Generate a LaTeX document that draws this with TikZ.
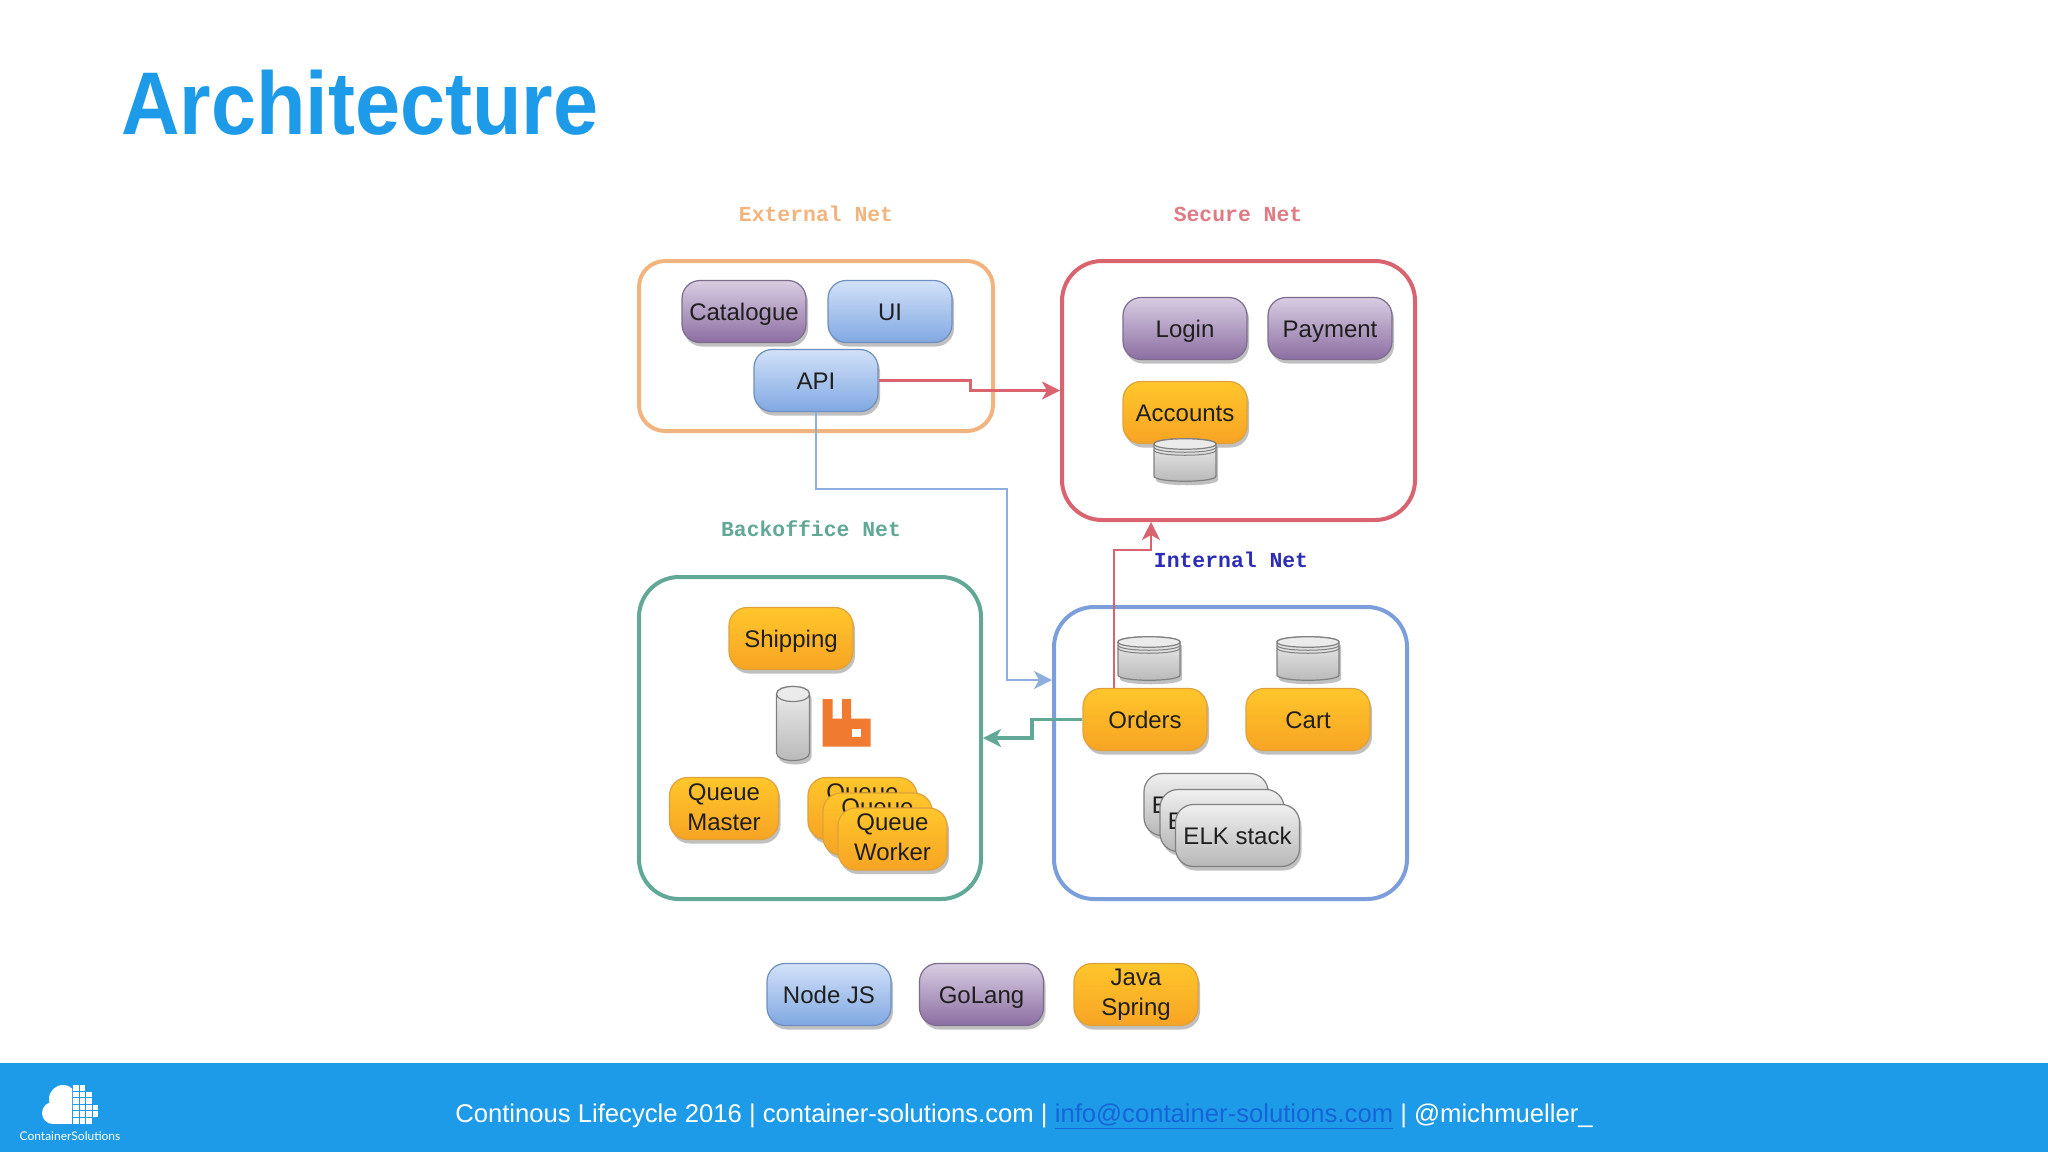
\documentclass[tikz,border=0pt]{standalone}
\usepackage{fontspec}
\setmainfont{Liberation Sans}
\newfontfamily\titlefont[FakeStretch=0.91]{Liberation Sans Bold}
\newfontfamily\labelfont{Liberation Mono Bold}
\newfontfamily\logofont{Lato}
\usetikzlibrary{arrows.meta,shadows,calc}
\definecolor{brand}{HTML}{1E9BE8}
\definecolor{extc}{HTML}{F2B47E}
\definecolor{secc}{HTML}{D9646F}
\definecolor{bakc}{HTML}{62A896}
\definecolor{intc}{HTML}{7C9FDB}
\definecolor{bluelink}{HTML}{8EAEDD}
\definecolor{purtop}{HTML}{D8CDE2}
\definecolor{purbot}{HTML}{8C6EA2}
\definecolor{purline}{HTML}{7E6C8E}
\definecolor{blutop}{HTML}{D2E1F8}
\definecolor{blubot}{HTML}{80A8E2}
\definecolor{blulin}{HTML}{6F8FBE}
\definecolor{ortop}{HTML}{FFC62B}
\definecolor{orbot}{HTML}{F7A424}
\definecolor{orlin}{HTML}{DFA23A}
\definecolor{rabbit}{HTML}{F07A2F}
\definecolor{mailc}{HTML}{1565D8}
\definecolor{intl}{HTML}{2C2CB4}
\tikzset{
  svc/.style={rounded corners=9pt,minimum width=62pt,minimum height=31pt,inner sep=0pt,align=center,
    font=\fontsize{12}{15}\selectfont,text=black!88,line width=.6pt,
    drop shadow={shadow xshift=1pt,shadow yshift=-2pt,opacity=.35,fill=black!70}},
  purple svc/.style={svc,draw=purline,top color=purtop,bottom color=purbot},
  blue svc/.style={svc,draw=blulin,top color=blutop,bottom color=blubot},
  orange svc/.style={svc,draw=orlin,top color=ortop,bottom color=orbot},
  grey svc/.style={svc,draw=black!50,top color=black!6,bottom color=black!28},
  small svc/.style={minimum width=54.5pt},
  single/.style={text height=10.1pt,text depth=1.2pt},
  netbox/.style={line width=2pt,fill=none,inner sep=0pt},
  netlabel/.style={font=\labelfont\fontsize{10.7}{13}\selectfont},
  link/.style={line width=1.25pt,-{Stealth[length=9pt,width=9pt,inset=2.5pt]},rounded corners=0pt},
  drum/.style={draw=black!50,line width=.6pt,top color=black!6,bottom color=black!28,
    drop shadow={shadow xshift=1pt,shadow yshift=-2pt,opacity=.35,fill=black!70}},
}
\newcommand\liftline[1]{\raisebox{1.6pt}{#1}}
% centre x, top y, half width, total height, ellipse height
\newcommand\dbshape[5]{%
  \path[drum] (#1-#3,#2+#5) -- (#1-#3,#2+#4-#5)
    .. controls (#1-#3,#2+#4) and (#1+#3,#2+#4) .. (#1+#3,#2+#4-#5)
    -- (#1+#3,#2+#5)
    .. controls (#1+#3,#2) and (#1-#3,#2) .. (#1-#3,#2+#5) -- cycle;
  \draw[draw=black!50,line width=.6pt,fill=black!8] (#1-#3,#2+#5)
    .. controls (#1-#3,#2) and (#1+#3,#2) .. (#1+#3,#2+#5)
    .. controls (#1+#3,#2+2*#5) and (#1-#3,#2+2*#5) .. cycle;
}
\newcommand\dbdrum[4]{%
  \dbshape{#1}{#2}{#3}{#4}{7}
  \draw[draw=black!50,line width=.5pt] (#1-#3,#2+10) .. controls (#1-#3,#2+17) and (#1+#3,#2+17) .. (#1+#3,#2+10);
  \draw[draw=black!50,line width=.5pt] (#1-#3,#2+13) .. controls (#1-#3,#2+20) and (#1+#3,#2+20) .. (#1+#3,#2+13);
}
\begin{document}
\begin{tikzpicture}[x=0.5pt,y=-0.5pt]
\useasboundingbox (0,0) rectangle (2048,1152);
\fill[white] (0,0) rectangle (2048,1152);

% title
\node[anchor=west,inner sep=0pt,text=brand,font=\titlefont\fontsize{44.5}{50}\selectfont] (title) at (121,103) {Architecture};

% net frames
\node[netbox,draw=extc,rounded corners=13pt,minimum width=177pt,minimum height=85pt] (external) at (816,346) {};
\node[netbox,draw=secc,rounded corners=20pt,minimum width=176.5pt,minimum height=129.5pt] (secure) at (1238.5,390.5) {};
\node[netbox,draw=bakc,rounded corners=20pt,minimum width=171pt,minimum height=161pt] (backoffice) at (810,738) {};
\node[netbox,draw=intc,rounded corners=20pt,minimum width=176.5pt,minimum height=146pt] (internal) at (1230.5,753) {};

% net labels
\node[netlabel,text=extc] (lext) at (816,214) {External Net};
\node[netlabel,text=secc!85] (lsec) at (1238,214) {Secure Net};
\node[netlabel,text=bakc] (lbak) at (811,529) {Backoffice Net};
\node[netlabel,text=intl] (lint) at (1231,560) {Internal Net};

% services
\node[purple svc,single] (catalogue) at (744,311.5) {Catalogue};
\node[blue svc,single] (ui) at (890,311.5) {UI};
\node[blue svc,single] (api) at (816,380.5) {API};
\node[purple svc,single] (login) at (1185,328.5) {Login};
\node[purple svc,single] (payment) at (1330,328.5) {Payment};
\node[orange svc,single] (accounts) at (1185,412.5) {Accounts};
\node[orange svc,single] (shipping) at (791,638.5) {Shipping};
\node[orange svc,small svc] (master) at (724,808.5) {\liftline{Queue}\\\liftline{Master}};
\node[orange svc,small svc] (workera) at (862.5,808.5) {\liftline{Queue}\\\liftline{Worker}};
\node[orange svc,small svc] (workerb) at (877.5,824) {\liftline{Queue}\\\liftline{Worker}};
\node[orange svc,small svc] (workerc) at (892.5,839) {\liftline{Queue}\\\liftline{Worker}};
\node[orange svc,single] (orders) at (1145,719.5) {Orders};
\node[orange svc,single] (cart) at (1308,719.5) {Cart};
\node[grey svc,single] (elka) at (1206,804.5) {ELK stack};
\node[grey svc,single] (elkb) at (1222,820.5) {ELK stack};
\node[grey svc,single] (elkc) at (1237.5,835.5) {ELK stack};
\node[blue svc,single] (nodejs) at (829,994.5) {Node JS};
\node[purple svc,single] (golang) at (981.5,994.5) {GoLang};
\node[orange svc] (java) at (1136,994.5) {Java\\Spring};

% connectors
\coordinate (redbend) at ($(api.east)+(92,0)$);
\draw[link,secc] (api.east) -- (redbend) |- (secure.west);
\coordinate (blueb) at (1007,489);
\coordinate (bluec) at (1052,680);
\draw[link,bluelink] (api.south) |- (blueb) |- (bluec);
\coordinate (greenbend) at (1032,719.5);
\draw[link,bakc,line width=1.6pt] (orders.west) -- (greenbend) |- (backoffice.east);
\coordinate (reda) at (1114,688);
\coordinate (redb) at (1114,550);
\coordinate (redc) at (1151,522);
\draw[link,secc] (reda) -- (redb) -| (redc);

% data stores
\dbdrum{1185}{437}{31}{46}
\dbdrum{1149}{635}{31}{47}
\dbdrum{1308}{635}{31}{47}
\dbshape{793}{684}{16.5}{79}{10}

% rabbit
\fill[rabbit] (822.5,699) -- (832.5,699) -- (832.5,718.5) -- (842,718.5) -- (842,699) -- (851,699) -- (851,718.5) -- (870.5,718.5) -- (870.5,746.5) -- (822.5,746.5) -- cycle;
\fill[white] (851.5,728.5) rectangle (860.5,737);

% footer
\fill[brand] (0,1063) rectangle (2048,1152);
\node[inner sep=0pt,text=white,font=\fontsize{12.83}{16}\selectfont] (footer) at (1024,1116.5)
  {Continous Lifecycle 2016 | container-solutions.com | \textcolor{mailc}{\underline{info@container-solutions.com}} | @michmueller\_};

% logo
\begin{scope}
\clip (30,1080) rectangle (72,1126);
\fill[white] (63,1099) circle (14);
\fill[white] (53,1113) circle (11);
\fill[white] (53,1106) rectangle (72,1124);
\end{scope}
\foreach \c/\r in {0/0,1/0,0/1,1/1,2/1,0/2,1/2,2/2,0/3,1/3,2/3,3/3,0/4,1/4,2/4,3/4,0/5,1/5,2/5}
  \fill[white] ({73+6.5*\c},{1085+6.6*\r}) rectangle ++(5.5,5.5);
\node[inner sep=0pt,text=white,font=\logofont\fontsize{6}{8}\selectfont] (logo) at (70,1136) {ContainerSolutions};
\end{tikzpicture}
\end{document}
